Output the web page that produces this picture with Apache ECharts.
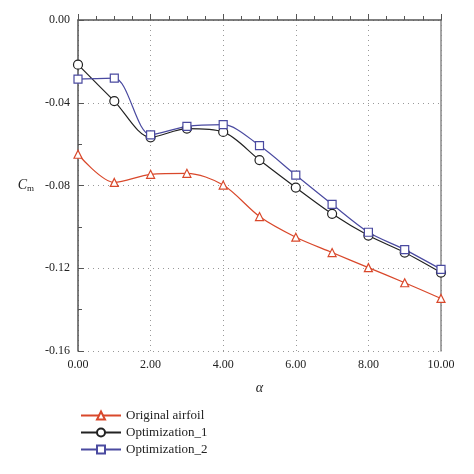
<!DOCTYPE html><html><head><meta charset="utf-8"><script src="https://cdn.jsdelivr.net/npm/echarts@6/dist/echarts.min.js"></script></head><body style="margin:0"><div id="c" style="width:474px;height:474px"></div><script>
const alpha=[0,1,2,3,4,5,6,7,8,9,10];
const original=[-0.0649,-0.0785,-0.0746,-0.0741,-0.0798,-0.095,-0.105,-0.1124,-0.1197,-0.127,-0.1346];
const opt1=[-0.0216,-0.0392,-0.0567,-0.0525,-0.0541,-0.0677,-0.081,-0.0937,-0.1042,-0.1124,-0.1221];
const opt2=[-0.0286,-0.0281,-0.0555,-0.0514,-0.0506,-0.0607,-0.075,-0.0891,-0.1026,-0.111,-0.1205];
const F='Liberation Serif';
const ax={lineStyle:{color:'#555',width:1.5}};
const split={show:true,lineStyle:{color:'#999',type:[1,4]}};
function s(name,d,color,sym){return{name,type:'line',smooth:0.3,data:alpha.map((a,i)=>[a,d[i]]),symbol:sym,symbolSize:sym==='circle'?9:8,lineStyle:{color,width:1.2},itemStyle:{color:'#fff',borderColor:color,borderWidth:1.2},color};}
const ch=echarts.init(document.getElementById('c'));
ch.setOption({animation:false,
grid:{left:78,right:33,top:20,bottom:123},
legend:{orient:'vertical',left:75,top:404,itemGap:4,itemWidth:40,itemHeight:10,textStyle:{fontFamily:F,fontSize:13,color:'#222'},data:['Original airfoil','Optimization_1','Optimization_2']},
xAxis:{type:'value',min:0,max:10,interval:2,name:'α',nameLocation:'middle',nameGap:30,nameTextStyle:{fontFamily:F,fontSize:14,fontStyle:'italic',color:'#222'},axisLine:ax,axisTick:{inside:true,length:6,lineStyle:{color:'#555'}},minorTick:{show:true,splitNumber:4,length:4,lineStyle:{color:'#555'}},splitLine:split,axisLabel:{fontFamily:F,fontSize:12,color:'#222',formatter:v=>v.toFixed(2)}},
yAxis:[{type:'value',min:-0.16,max:0,interval:0.04,name:'{a|C}{b|m}',nameLocation:'middle',nameGap:44,nameRotate:0,nameTextStyle:{rich:{a:{fontFamily:F,fontSize:14,fontStyle:'italic',color:'#222'},b:{fontFamily:F,fontSize:9,color:'#222',verticalAlign:'bottom',padding:[6,0,0,0]}}},axisLine:ax,axisTick:{inside:true,length:6,lineStyle:{color:'#555'}},minorTick:{show:true,splitNumber:2,length:4,lineStyle:{color:'#555'}},splitLine:split,axisLabel:{fontFamily:F,fontSize:12,color:'#222',formatter:v=>v===0?'0.00':v.toFixed(2)}},
{type:'value',position:'right',min:-0.16,max:0,interval:0.04,axisLine:{show:true,lineStyle:{color:'#888',width:1.5}},axisTick:{show:false},axisLabel:{show:false},splitLine:{show:false}}],
series:[s('Original airfoil',original,'#d9482b','triangle'),s('Optimization_1',opt1,'#222','circle'),s('Optimization_2',opt2,'#4a4aa0','rect')]
});
</script></body></html>
